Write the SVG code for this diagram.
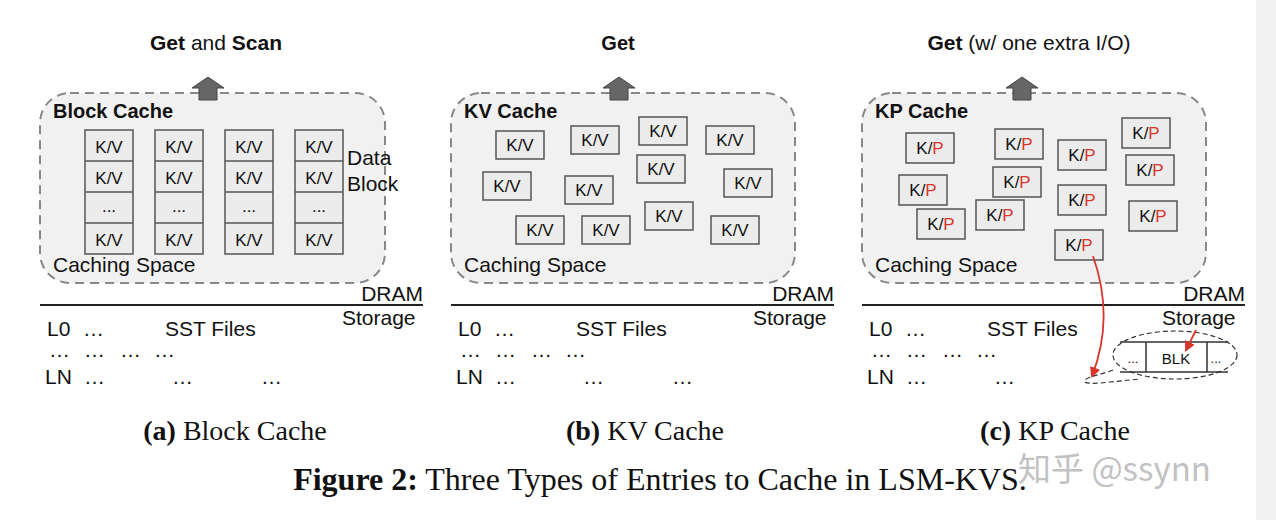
<svg xmlns="http://www.w3.org/2000/svg" width="1276" height="520" viewBox="0 0 1276 520">
<style>
text{font-family:"Liberation Sans",Arial,sans-serif;fill:#111}
.t{font-size:21px}
.h{font-size:20px;font-weight:bold}
.s{font-size:21px}
.k{font-size:17px;text-anchor:middle}
.cache{fill:#f1f1f1;stroke:#888;stroke-width:2;stroke-dasharray:9 6}
.cell{fill:#ececec;stroke:#555;stroke-width:1.5}
.line{stroke:#222;stroke-width:2}
.up{fill:#666;stroke:#444;stroke-width:1}
text.cap{font-family:"Liberation Serif","Times New Roman",serif;font-size:28px;text-anchor:middle}
text.fig{font-family:"Liberation Serif","Times New Roman",serif;font-size:32px;text-anchor:middle}
text.wm{font-family:"Noto Sans CJK SC",sans-serif;font-size:33px;fill:#c2c2c2}
.r{fill:#d9362b}
</style>
<defs>
<marker id="ra" viewBox="0 0 10 10" refX="8" refY="5" markerWidth="6" markerHeight="6" orient="auto"><path d="M0,0L10,5L0,10z" fill="#d9362b"/></marker>
<g id="kv"><rect class="cell" x="-24" y="-14" width="48" height="28"/><text class="k" y="6">K/V</text></g>
<g id="kp"><rect class="cell" x="-24" y="-15" width="48" height="30"/><text class="k" y="6">K/<tspan class="r">P</tspan></text></g>
</defs>
<rect width="1276" height="520" fill="#fff"/>
<rect x="1256" y="0" width="20" height="520" fill="#f2f2f2"/>

<g id="panelA">
<text class="t" x="216" y="50" text-anchor="middle"><tspan font-weight="bold">Get</tspan> and <tspan font-weight="bold">Scan</tspan></text>
<rect class="cache" x="40" y="93" width="345" height="190" rx="30"/>
<path class="up" d="M199,100V88H192L208,77L224,88H217V100Z"/>
<text class="h" x="53" y="118">Block Cache</text>
<g id="blocks">
<g transform="translate(85,130)"><rect class="cell" width="48" height="124"/><path d="M0,31H48M0,62H48M0,93H48" stroke="#555" stroke-width="1.5"/><text class="k" x="24" y="23">K/V</text><text class="k" x="24" y="54">K/V</text><text class="k" x="24" y="82">...</text><text class="k" x="24" y="116">K/V</text></g>
<g transform="translate(155,130)"><rect class="cell" width="48" height="124"/><path d="M0,31H48M0,62H48M0,93H48" stroke="#555" stroke-width="1.5"/><text class="k" x="24" y="23">K/V</text><text class="k" x="24" y="54">K/V</text><text class="k" x="24" y="82">...</text><text class="k" x="24" y="116">K/V</text></g>
<g transform="translate(225,130)"><rect class="cell" width="48" height="124"/><path d="M0,31H48M0,62H48M0,93H48" stroke="#555" stroke-width="1.5"/><text class="k" x="24" y="23">K/V</text><text class="k" x="24" y="54">K/V</text><text class="k" x="24" y="82">...</text><text class="k" x="24" y="116">K/V</text></g>
<g transform="translate(295,130)"><rect class="cell" width="48" height="124"/><path d="M0,31H48M0,62H48M0,93H48" stroke="#555" stroke-width="1.5"/><text class="k" x="24" y="23">K/V</text><text class="k" x="24" y="54">K/V</text><text class="k" x="24" y="82">...</text><text class="k" x="24" y="116">K/V</text></g>
</g>
<text class="s" x="347" y="165">Data</text><text class="s" x="347" y="191">Block</text>
<text class="s" x="53" y="272">Caching Space</text>
<line class="line" x1="40" y1="305" x2="423" y2="305"/>
<text class="s" x="423" y="301" text-anchor="end">DRAM</text>
<text class="s" x="342" y="325">Storage</text>
<text class="s" x="47" y="336">L0</text><text class="s" x="83" y="336">…</text><text class="s" x="165" y="336">SST Files</text>
<text class="s" x="49" y="357">…</text><text class="s" x="84" y="357">…</text><text class="s" x="120" y="357">…</text><text class="s" x="154" y="357">…</text>
<text class="s" x="45" y="384">LN</text><text class="s" x="84" y="384">…</text><text class="s" x="172" y="384">…</text><text class="s" x="261" y="384">…</text>
<text class="cap" x="235" y="440"><tspan font-weight="bold">(a)</tspan> Block Cache</text>
</g>

<g id="panelB">
<text class="h" x="618" y="50" text-anchor="middle">Get</text>
<rect class="cache" x="451" y="93" width="344" height="190" rx="30"/>
<path class="up" d="M610,100V88H603L619,77L635,88H628V100Z"/>
<text class="h" x="464" y="118">KV Cache</text>
<use href="#kv" x="520" y="145"/><use href="#kv" x="595" y="140"/><use href="#kv" x="663" y="131"/><use href="#kv" x="730" y="140"/>
<use href="#kv" x="507" y="186"/><use href="#kv" x="589" y="190"/><use href="#kv" x="661" y="169"/><use href="#kv" x="748" y="183"/>
<use href="#kv" x="540" y="230"/><use href="#kv" x="606" y="230"/><use href="#kv" x="669" y="216"/><use href="#kv" x="735" y="230"/>
<text class="s" x="464" y="272">Caching Space</text>
<line class="line" x1="451" y1="305" x2="834" y2="305"/>
<text class="s" x="834" y="301" text-anchor="end">DRAM</text>
<text class="s" x="753" y="325">Storage</text>
<text class="s" x="458" y="336">L0</text><text class="s" x="494" y="336">…</text><text class="s" x="576" y="336">SST Files</text>
<text class="s" x="460" y="357">…</text><text class="s" x="495" y="357">…</text><text class="s" x="531" y="357">…</text><text class="s" x="565" y="357">…</text>
<text class="s" x="456" y="384">LN</text><text class="s" x="495" y="384">…</text><text class="s" x="583" y="384">…</text><text class="s" x="672" y="384">…</text>
<text class="cap" x="645" y="440"><tspan font-weight="bold">(b)</tspan> KV Cache</text>
</g>

<g id="panelC">
<text class="t" x="1029" y="50" text-anchor="middle"><tspan font-weight="bold">Get</tspan> (w/ one extra I/O)</text>
<rect class="cache" x="862" y="93" width="344" height="190" rx="30"/>
<path class="up" d="M1013,100V88H1006L1022,77L1038,88H1031V100Z"/>
<text class="h" x="875" y="118">KP Cache</text>
<use href="#kp" x="930" y="148"/><use href="#kp" x="1019" y="144"/><use href="#kp" x="1082" y="155"/><use href="#kp" x="1146" y="133"/>
<use href="#kp" x="923" y="190"/><use href="#kp" x="1017" y="182"/><use href="#kp" x="1082" y="200"/><use href="#kp" x="1150" y="170"/>
<use href="#kp" x="941" y="224"/><use href="#kp" x="1000" y="215"/><use href="#kp" x="1153" y="216"/><use href="#kp" x="1079" y="245"/>
<text class="s" x="875" y="272">Caching Space</text>
<line class="line" x1="862" y1="305" x2="1245" y2="305"/>
<text class="s" x="1245" y="301" text-anchor="end">DRAM</text>
<text class="s" x="1162" y="325">Storage</text>
<text class="s" x="869" y="336">L0</text><text class="s" x="905" y="336">…</text><text class="s" x="987" y="336">SST Files</text>
<text class="s" x="871" y="357">…</text><text class="s" x="906" y="357">…</text><text class="s" x="942" y="357">…</text><text class="s" x="976" y="357">…</text>
<text class="s" x="867" y="384">LN</text><text class="s" x="906" y="384">…</text><text class="s" x="994" y="384">…</text>
<g id="blk">
<path d="M1120,342H1228M1120,372H1228M1146,342V372M1207,342V372" stroke="#333" stroke-width="1.5" fill="none"/>
<text x="1133" y="363" font-size="13" text-anchor="middle">...</text>
<text x="1176" y="364" font-size="15" text-anchor="middle">BLK</text>
<text x="1216" y="363" font-size="13" text-anchor="middle">...</text>
<ellipse cx="1175" cy="355" rx="62" ry="24" fill="none" stroke="#333" stroke-width="1.2" stroke-dasharray="5 3"/>
<path d="M1113,370C1100,375 1090,376 1085,380C1082,384 1095,384 1110,382L1140,379" fill="none" stroke="#333" stroke-width="1.2" stroke-dasharray="5 3"/>
</g>
<text class="cap" x="1055" y="440"><tspan font-weight="bold">(c)</tspan> KP Cache</text>
</g>

<g id="connectors" fill="none" stroke="#d9362b" stroke-width="1.8">
<path d="M1093,256C1105,290 1110,330 1092,376" marker-end="url(#ra)"/>
<path d="M1196,330L1186,350" marker-end="url(#ra)"/>
</g>

<text class="fig" x="660" y="490"><tspan font-weight="bold">Figure 2:</tspan> Three Types of Entries to Cache in LSM-KVS.</text>
<text class="wm" x="1018" y="481">知乎 @ssynn</text>
</svg>
